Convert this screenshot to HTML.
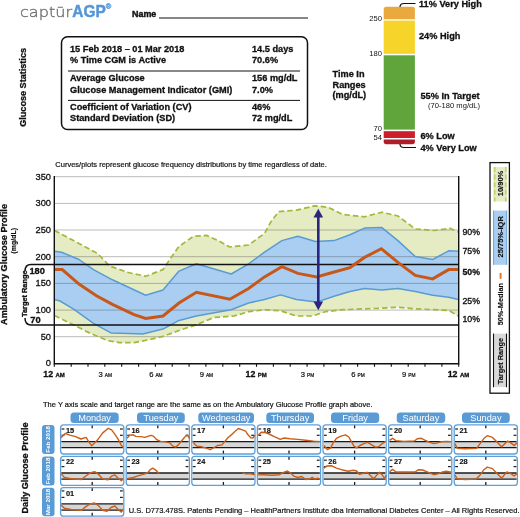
<!DOCTYPE html>
<html><head><meta charset="utf-8"><title>capturAGP</title>
<style>html,body{margin:0;padding:0;background:#fff}svg{display:block}text{font-family:"Liberation Sans",Arial,Helvetica,sans-serif;fill:#111}.b{font-weight:bold;stroke:#111;stroke-width:0.3px}.r{stroke:#111;stroke-width:0.2px}.wb{font-weight:bold;fill:#fff}.bs{font-weight:bold;stroke:#111;stroke-width:0.15px}</style>
</head><body>
<svg width="520" height="517" viewBox="0 0 520 517">
<rect width="520" height="517" fill="#fff"/>
<text x="20" y="16.8" font-size="14.6" style="font-family:'DejaVu Sans Light','DejaVu Sans','Liberation Sans',sans-serif;font-weight:200;fill:#6f7073;stroke:#6f7073;stroke-width:0.35px" textLength="52" lengthAdjust="spacingAndGlyphs">captūr</text>
<text x="72.3" y="16.8" font-size="17" style="font-weight:bold;fill:#5596d6;stroke:#5596d6;stroke-width:0.5px" textLength="33.5" lengthAdjust="spacingAndGlyphs">AGP</text>
<text x="105.8" y="8.6" font-size="7.5" style="font-weight:bold;fill:#5596d6;stroke:#5596d6;stroke-width:0.3px">®</text>
<text x="132" y="16.8" font-size="9.8" class="b" style="stroke-width:0.45px" textLength="24.3" lengthAdjust="spacingAndGlyphs">Name</text>
<line x1="159" y1="18" x2="308" y2="18" stroke="#111" stroke-width="1.2"/>
<rect x="61.5" y="36.7" width="246" height="92.8" rx="6" ry="6" fill="#fff" stroke="#111" stroke-width="1.5"/>
<line x1="68" y1="71" x2="300" y2="71" stroke="#111" stroke-width="1"/>
<line x1="68" y1="100.4" x2="300" y2="100.4" stroke="#111" stroke-width="1"/>
<text x="70" y="52.0" font-size="9.2" class="b">15 Feb 2018 – 01 Mar 2018</text>
<text x="252" y="52.0" font-size="9.2" class="b">14.5 days</text>
<text x="70" y="63.0" font-size="9.2" class="b">% Time CGM is Active</text>
<text x="252" y="63.0" font-size="9.2" class="b">70.6%</text>
<text x="70" y="81.3" font-size="9.2" class="b">Average Glucose</text>
<text x="252" y="81.3" font-size="9.2" class="b">156 mg/dL</text>
<text x="70" y="92.5" font-size="9.2" class="b">Glucose Management Indicator (GMI)</text>
<text x="252" y="92.5" font-size="9.2" class="b">7.0%</text>
<text x="70" y="110.0" font-size="9.2" class="b">Coefficient of Variation (CV)</text>
<text x="252" y="110.0" font-size="9.2" class="b">46%</text>
<text x="70" y="121.3" font-size="9.2" class="b">Standard Deviation (SD)</text>
<text x="252" y="121.3" font-size="9.2" class="b">72 mg/dL</text>
<text transform="translate(26.4,126.8) rotate(-90)" font-size="9.6" class="b" textLength="78.8" lengthAdjust="spacingAndGlyphs">Glucose Statistics</text>
<path d="M383.7 19.3 V9.5 Q383.7 6.8 386.2 6.8 H412.4 Q414.9 6.8 414.9 9.5 V19.3 Z" fill="#e9a93f"/>
<rect x="383.7" y="20.6" width="31.2" height="33.2" fill="#f6d42a"/>
<rect x="383.7" y="55.3" width="31.2" height="74.3" fill="#5fa53c"/>
<rect x="383.7" y="131.2" width="31.2" height="6.8" fill="#cc1f2b"/>
<path d="M383.7 139.4 H414.9 V141.5 Q414.9 144.2 412.4 144.2 H386.2 Q383.7 144.2 383.7 141.5 Z" fill="#b01c27"/>
<path d="M400 7 Q400 3.5 404 3.5 H415.5" fill="none" stroke="#111" stroke-width="1.2"/>
<path d="M400 144 Q400 147.5 404 147.5 H416" fill="none" stroke="#111" stroke-width="1.2"/>
<text x="419" y="6.6" font-size="9.2" class="b">11% Very High</text>
<text x="419" y="39" font-size="9.2" class="b">24% High</text>
<text x="420.5" y="98.5" font-size="9.2" class="b">55% In Target</text>
<text x="428" y="107.5" font-size="7.5" textLength="52" lengthAdjust="spacingAndGlyphs">(70-180 mg/dL)</text>
<text x="420.5" y="138.5" font-size="9.2" class="b">6% Low</text>
<text x="420.5" y="150.5" font-size="9.2" class="b">4% Very Low</text>
<text x="382" y="21.3" font-size="7.6" text-anchor="end">250</text>
<text x="382" y="55.5" font-size="7.6" text-anchor="end">180</text>
<text x="382" y="131" font-size="7.6" text-anchor="end">70</text>
<text x="382" y="140" font-size="7.6" text-anchor="end">54</text>
<text x="332.5" y="77.3" font-size="9.2" class="b">Time In</text>
<text x="332.5" y="87.8" font-size="9.2" class="b">Ranges</text>
<text x="332.5" y="98.3" font-size="9.2" class="b">(mg/dL)</text>
<text x="55.3" y="167" font-size="7.6" class="r" textLength="271.5" lengthAdjust="spacingAndGlyphs">Curves/plots represent glucose frequency distributions by time regardless of date.</text>
<polygon points="54.5,230.5 79.0,243.5 97.9,253.7 109.5,266.0 128.3,272.5 145.7,276.3 163.0,269.6 171.8,256.6 179.0,246.4 193.5,236.3 206.6,235.4 218.2,240.6 229.8,247.0 248.6,245.0 264.5,233.4 271.8,220.3 279.0,211.6 296.4,210.2 314.8,205.8 328.3,207.3 342.8,214.5 364.5,216.8 381.9,212.2 397.9,216.0 415.3,229.0 434.1,230.5 450.0,228.3 458.5,232.0 458.5,316.2 449.0,310.5 434.1,309.7 415.3,308.8 397.9,307.3 381.9,308.2 364.5,308.8 342.8,309.7 325.4,311.7 312.4,316.0 296.4,316.0 280.5,310.8 264.5,309.7 248.6,311.7 234.1,316.0 213.8,317.5 196.4,324.7 179.0,330.5 163.0,336.4 148.6,339.8 134.1,342.7 119.6,342.7 108.0,340.7 90.6,333.5 73.2,324.7 54.5,315.5" fill="#e5ecc4"/>
<polygon points="54.5,251.3 61.6,252.2 79.0,259.5 93.5,269.6 112.4,279.8 145.7,295.2 163.0,290.0 179.0,271.1 196.4,263.8 231.2,274.0 248.6,263.8 264.5,252.2 281.9,240.6 297.9,236.3 315.3,241.5 334.1,240.6 350.0,234.8 364.5,228.1 381.9,227.6 397.9,240.6 415.3,256.6 432.7,259.5 448.6,250.8 458.5,251.3 458.5,299.5 448.6,297.2 432.7,295.2 415.3,291.4 397.9,288.5 381.9,289.9 364.5,288.5 350.0,291.5 334.1,296.3 316.7,302.1 296.4,299.5 280.5,294.9 264.5,299.5 248.6,303.0 231.2,309.7 196.4,316.0 179.0,320.4 163.0,329.1 142.8,334.0 128.3,333.5 110.9,332.9 93.5,323.3 73.2,308.8 60.0,301.0 54.5,299.5" fill="#a9cef2"/>
<line x1="54.5" y1="336.7" x2="458.5" y2="336.7" stroke="#4a4a4a" stroke-opacity="0.42" stroke-width="0.9"/>
<line x1="54.5" y1="310.1" x2="458.5" y2="310.1" stroke="#4a4a4a" stroke-opacity="0.42" stroke-width="0.9"/>
<line x1="54.5" y1="283.4" x2="458.5" y2="283.4" stroke="#4a4a4a" stroke-opacity="0.42" stroke-width="0.9"/>
<line x1="54.5" y1="256.7" x2="458.5" y2="256.7" stroke="#4a4a4a" stroke-opacity="0.42" stroke-width="0.9"/>
<line x1="54.5" y1="230.0" x2="458.5" y2="230.0" stroke="#4a4a4a" stroke-opacity="0.42" stroke-width="0.9"/>
<line x1="54.5" y1="203.4" x2="458.5" y2="203.4" stroke="#4a4a4a" stroke-opacity="0.42" stroke-width="0.9"/>
<line x1="54.5" y1="176.7" x2="458.5" y2="176.7" stroke="#4a4a4a" stroke-opacity="0.42" stroke-width="0.9"/>
<path d="M54.5 230.5 L79.0 243.5 L97.9 253.7 L109.5 266.0 L128.3 272.5 L145.7 276.3 L163.0 269.6 L171.8 256.6 L179.0 246.4 L193.5 236.3 L206.6 235.4 L218.2 240.6 L229.8 247.0 L248.6 245.0 L264.5 233.4 L271.8 220.3 L279.0 211.6 L296.4 210.2 L314.8 205.8 L328.3 207.3 L342.8 214.5 L364.5 216.8 L381.9 212.2 L397.9 216.0 L415.3 229.0 L434.1 230.5 L450.0 228.3 L458.5 232.0" fill="none" stroke="#a3b83a" stroke-width="1.7" stroke-dasharray="5.5 3" stroke-linejoin="round"/>
<path d="M54.5 315.5 L73.2 324.7 L90.6 333.5 L108.0 340.7 L119.6 342.7 L134.1 342.7 L148.6 339.8 L163.0 336.4 L179.0 330.5 L196.4 324.7 L213.8 317.5 L234.1 316.0 L248.6 311.7 L264.5 309.7 L280.5 310.8 L296.4 316.0 L312.4 316.0 L325.4 311.7 L342.8 309.7 L364.5 308.8 L381.9 308.2 L397.9 307.3 L415.3 308.8 L434.1 309.7 L449.0 310.5 L458.5 316.2" fill="none" stroke="#a3b83a" stroke-width="1.7" stroke-dasharray="5.5 3" stroke-linejoin="round"/>
<path d="M54.5 251.3 L61.6 252.2 L79.0 259.5 L93.5 269.6 L112.4 279.8 L145.7 295.2 L163.0 290.0 L179.0 271.1 L196.4 263.8 L231.2 274.0 L248.6 263.8 L264.5 252.2 L281.9 240.6 L297.9 236.3 L315.3 241.5 L334.1 240.6 L350.0 234.8 L364.5 228.1 L381.9 227.6 L397.9 240.6 L415.3 256.6 L432.7 259.5 L448.6 250.8 L458.5 251.3" fill="none" stroke="#5a9bd0" stroke-width="1.5" stroke-linejoin="round"/>
<path d="M54.5 299.5 L60.0 301.0 L73.2 308.8 L93.5 323.3 L110.9 332.9 L128.3 333.5 L142.8 334.0 L163.0 329.1 L179.0 320.4 L196.4 316.0 L231.2 309.7 L248.6 303.0 L264.5 299.5 L280.5 294.9 L296.4 299.5 L316.7 302.1 L334.1 296.3 L350.0 291.5 L364.5 288.5 L381.9 289.9 L397.9 288.5 L415.3 291.4 L432.7 295.2 L448.6 297.2 L458.5 299.5" fill="none" stroke="#5a9bd0" stroke-width="1.5" stroke-linejoin="round"/>
<path d="M458 264.4 H31 Q25 264.4 25 271" fill="none" stroke="#111" stroke-width="1.5"/>
<path d="M458 324.9 H31 Q25 324.9 25 318" fill="none" stroke="#111" stroke-width="1.5"/>
<path d="M54.5 269.6 L62.2 269.6 L79.0 284.1 L96.4 295.7 L112.4 304.4 L134.1 314.6 L145.7 318.4 L163.0 316.0 L179.0 303.0 L196.4 292.3 L229.8 299.2 L248.6 288.5 L264.5 276.9 L281.9 266.7 L297.9 273.4 L316.7 276.9 L334.1 272.0 L350.0 267.6 L364.5 257.4 L381.3 248.7 L397.9 262.4 L415.3 275.4 L432.7 278.9 L448.6 269.6 L458.5 269.6" fill="none" stroke="#c8581a" stroke-width="3" stroke-linejoin="miter"/>
<path d="M54.3 176 V363.8 H458.7 V176" fill="none" stroke="#111" stroke-width="1.4"/>
<line x1="54.3" y1="363.5" x2="54.3" y2="366.8" stroke="#111" stroke-width="1.1"/>
<line x1="71.2" y1="363.5" x2="71.2" y2="366.8" stroke="#111" stroke-width="1.1"/>
<line x1="88.0" y1="363.5" x2="88.0" y2="366.8" stroke="#111" stroke-width="1.1"/>
<line x1="104.8" y1="363.5" x2="104.8" y2="366.8" stroke="#111" stroke-width="1.1"/>
<line x1="121.7" y1="363.5" x2="121.7" y2="366.8" stroke="#111" stroke-width="1.1"/>
<line x1="138.6" y1="363.5" x2="138.6" y2="366.8" stroke="#111" stroke-width="1.1"/>
<line x1="155.4" y1="363.5" x2="155.4" y2="366.8" stroke="#111" stroke-width="1.1"/>
<line x1="172.2" y1="363.5" x2="172.2" y2="366.8" stroke="#111" stroke-width="1.1"/>
<line x1="189.1" y1="363.5" x2="189.1" y2="366.8" stroke="#111" stroke-width="1.1"/>
<line x1="205.9" y1="363.5" x2="205.9" y2="366.8" stroke="#111" stroke-width="1.1"/>
<line x1="222.8" y1="363.5" x2="222.8" y2="366.8" stroke="#111" stroke-width="1.1"/>
<line x1="239.7" y1="363.5" x2="239.7" y2="366.8" stroke="#111" stroke-width="1.1"/>
<line x1="256.5" y1="363.5" x2="256.5" y2="366.8" stroke="#111" stroke-width="1.1"/>
<line x1="273.4" y1="363.5" x2="273.4" y2="366.8" stroke="#111" stroke-width="1.1"/>
<line x1="290.2" y1="363.5" x2="290.2" y2="366.8" stroke="#111" stroke-width="1.1"/>
<line x1="307.1" y1="363.5" x2="307.1" y2="366.8" stroke="#111" stroke-width="1.1"/>
<line x1="323.9" y1="363.5" x2="323.9" y2="366.8" stroke="#111" stroke-width="1.1"/>
<line x1="340.8" y1="363.5" x2="340.8" y2="366.8" stroke="#111" stroke-width="1.1"/>
<line x1="357.6" y1="363.5" x2="357.6" y2="366.8" stroke="#111" stroke-width="1.1"/>
<line x1="374.5" y1="363.5" x2="374.5" y2="366.8" stroke="#111" stroke-width="1.1"/>
<line x1="391.3" y1="363.5" x2="391.3" y2="366.8" stroke="#111" stroke-width="1.1"/>
<line x1="408.2" y1="363.5" x2="408.2" y2="366.8" stroke="#111" stroke-width="1.1"/>
<line x1="425.0" y1="363.5" x2="425.0" y2="366.8" stroke="#111" stroke-width="1.1"/>
<line x1="441.9" y1="363.5" x2="441.9" y2="366.8" stroke="#111" stroke-width="1.1"/>
<line x1="458.7" y1="363.5" x2="458.7" y2="366.8" stroke="#111" stroke-width="1.1"/>
<line x1="318.3" y1="215" x2="318.3" y2="304" stroke="#2a2580" stroke-width="2.6"/>
<polygon points="318.3,208.7 313.5,217.5 323.1,217.5" fill="#2a2580"/>
<polygon points="318.3,310.3 313.5,301.5 323.1,301.5" fill="#2a2580"/>
<text x="51" y="366.4" font-size="9.3" text-anchor="end" style="stroke:#111;stroke-width:0.3px">0</text>
<text x="51" y="339.7" font-size="9.3" text-anchor="end" style="stroke:#111;stroke-width:0.3px">50</text>
<text x="51" y="313.1" font-size="9.3" text-anchor="end" style="stroke:#111;stroke-width:0.3px">100</text>
<text x="51" y="286.4" font-size="9.3" text-anchor="end" style="stroke:#111;stroke-width:0.3px">150</text>
<text x="51" y="259.7" font-size="9.3" text-anchor="end" style="stroke:#111;stroke-width:0.3px">200</text>
<text x="51" y="233.0" font-size="9.3" text-anchor="end" style="stroke:#111;stroke-width:0.3px">250</text>
<text x="51" y="206.4" font-size="9.3" text-anchor="end" style="stroke:#111;stroke-width:0.3px">300</text>
<text x="51" y="179.7" font-size="9.3" text-anchor="end" style="stroke:#111;stroke-width:0.3px">350</text>
<text x="29.4" y="274.4" font-size="9.4" class="b" textLength="15.5" lengthAdjust="spacingAndGlyphs">180</text>
<text x="30.2" y="323.3" font-size="9.4" class="b">70</text>
<text transform="translate(27.3,317) rotate(-90)" font-size="7.3" class="b" textLength="46.5" lengthAdjust="spacingAndGlyphs">Target Range</text>
<text transform="translate(6.5,325) rotate(-90)" font-size="9.2" class="b" textLength="121" lengthAdjust="spacingAndGlyphs">Ambulatory Glucose Profile</text>
<text transform="translate(16.3,253.5) rotate(-90)" font-size="7" class="bs" textLength="25.5" lengthAdjust="spacingAndGlyphs">(mg/dL)</text>
<text x="53.1" y="376.8" font-size="8.8" class="b" text-anchor="end">12</text>
<text x="55.5" y="376.8" font-size="6" class="b">AM</text>
<text x="102.8" y="376.8" font-size="7.6" text-anchor="end" style="stroke:#111;stroke-width:0.2px">3</text>
<text x="104.8" y="376.8" font-size="4.8" style="stroke:#111;stroke-width:0.2px">AM</text>
<text x="153.4" y="376.8" font-size="7.6" text-anchor="end" style="stroke:#111;stroke-width:0.2px">6</text>
<text x="155.4" y="376.8" font-size="4.8" style="stroke:#111;stroke-width:0.2px">AM</text>
<text x="203.9" y="376.8" font-size="7.6" text-anchor="end" style="stroke:#111;stroke-width:0.2px">9</text>
<text x="205.9" y="376.8" font-size="4.8" style="stroke:#111;stroke-width:0.2px">AM</text>
<text x="255.3" y="376.8" font-size="8.8" class="b" text-anchor="end">12</text>
<text x="257.7" y="376.8" font-size="6" class="b">PM</text>
<text x="305.1" y="376.8" font-size="7.6" text-anchor="end" style="stroke:#111;stroke-width:0.2px">3</text>
<text x="307.1" y="376.8" font-size="4.8" style="stroke:#111;stroke-width:0.2px">PM</text>
<text x="355.6" y="376.8" font-size="7.6" text-anchor="end" style="stroke:#111;stroke-width:0.2px">6</text>
<text x="357.6" y="376.8" font-size="4.8" style="stroke:#111;stroke-width:0.2px">PM</text>
<text x="406.2" y="376.8" font-size="7.6" text-anchor="end" style="stroke:#111;stroke-width:0.2px">9</text>
<text x="408.2" y="376.8" font-size="4.8" style="stroke:#111;stroke-width:0.2px">PM</text>
<text x="457.5" y="376.8" font-size="8.8" class="b" text-anchor="end">12</text>
<text x="459.9" y="376.8" font-size="6" class="b">AM</text>
<text x="462.5" y="235.0" font-size="9" style="stroke:#111;stroke-width:0.35px" textLength="17.5" lengthAdjust="spacingAndGlyphs">90%</text>
<text x="462.5" y="254.0" font-size="9" style="stroke:#111;stroke-width:0.35px" textLength="17.5" lengthAdjust="spacingAndGlyphs">75%</text>
<text x="462.5" y="275.0" font-size="9" class="b" textLength="17.5" lengthAdjust="spacingAndGlyphs">50%</text>
<text x="462.5" y="304.0" font-size="9" style="stroke:#111;stroke-width:0.35px" textLength="17.5" lengthAdjust="spacingAndGlyphs">25%</text>
<text x="462.5" y="322.0" font-size="9" style="stroke:#111;stroke-width:0.35px" textLength="17.5" lengthAdjust="spacingAndGlyphs">10%</text>
<rect x="490" y="162.6" width="19.4" height="230.6" fill="#fff" stroke="#111" stroke-width="1.3"/>
<rect x="493.2" y="167" width="13.9" height="34.5" fill="#e4ebc5"/>
<line x1="494.8" y1="167" x2="494.8" y2="201.5" stroke="#b9cc55" stroke-width="1.3" stroke-dasharray="5 2.6"/>
<line x1="505.8" y1="167" x2="505.8" y2="201.5" stroke="#b9cc55" stroke-width="1.3" stroke-dasharray="5 2.6"/>
<text transform="translate(503,196.3) rotate(-90)" font-size="7.6" class="bs" textLength="25.6" lengthAdjust="spacingAndGlyphs">10/90%</text>
<rect x="493.2" y="210.6" width="13.9" height="54.2" fill="#a9cef1"/>
<line x1="493.6" y1="210.6" x2="493.6" y2="264.8" stroke="#6aa5d8" stroke-width="1"/>
<line x1="506.7" y1="210.6" x2="506.7" y2="264.8" stroke="#6aa5d8" stroke-width="1"/>
<text transform="translate(503,257.4) rotate(-90)" font-size="7.6" class="bs" textLength="41.2" lengthAdjust="spacingAndGlyphs">25/75%-IQR</text>
<line x1="500.6" y1="272.9" x2="500.6" y2="278.8" stroke="#e07a2a" stroke-width="2"/>
<text transform="translate(503,325.3) rotate(-90)" font-size="7.6" class="bs" textLength="42.3" lengthAdjust="spacingAndGlyphs">50%-Median</text>
<rect x="493.2" y="333.6" width="13.6" height="53.6" fill="#d9d9d9"/>
<line x1="493.5" y1="333.6" x2="493.5" y2="387.2" stroke="#111" stroke-width="1.1"/>
<line x1="506.5" y1="333.6" x2="506.5" y2="387.2" stroke="#111" stroke-width="1.1"/>
<text transform="translate(503,384.2) rotate(-90)" font-size="7.6" class="bs" textLength="46.2" lengthAdjust="spacingAndGlyphs">Target Range</text>
<text x="43" y="407" font-size="7.6" class="r" textLength="329.5" lengthAdjust="spacingAndGlyphs">The Y axis scale and target range are the same as on the Ambulatory Glucose Profile graph above.</text>
<text transform="translate(28,513.5) rotate(-90)" font-size="9.2" class="b" textLength="91" lengthAdjust="spacingAndGlyphs">Daily Glucose Profile</text>
<rect x="70.5" y="412.4" width="48.2" height="10.5" rx="3.5" ry="3.5" fill="#5b9bd5"/>
<text x="94.6" y="420.8" font-size="9.2" text-anchor="middle" style="fill:#fff">Monday</text>
<rect x="137.0" y="412.4" width="47.8" height="10.5" rx="3.5" ry="3.5" fill="#5b9bd5"/>
<text x="160.9" y="420.8" font-size="9.2" text-anchor="middle" style="fill:#fff">Tuesday</text>
<rect x="198.3" y="412.4" width="55.7" height="10.5" rx="3.5" ry="3.5" fill="#5b9bd5"/>
<text x="226.2" y="420.8" font-size="9.2" text-anchor="middle" style="fill:#fff">Wednesday</text>
<rect x="266.3" y="412.4" width="47.7" height="10.5" rx="3.5" ry="3.5" fill="#5b9bd5"/>
<text x="290.1" y="420.8" font-size="9.2" text-anchor="middle" style="fill:#fff">Thursday</text>
<rect x="331.0" y="412.4" width="48.2" height="10.5" rx="3.5" ry="3.5" fill="#5b9bd5"/>
<text x="355.1" y="420.8" font-size="9.2" text-anchor="middle" style="fill:#fff">Friday</text>
<rect x="396.7" y="412.4" width="48.5" height="10.5" rx="3.5" ry="3.5" fill="#5b9bd5"/>
<text x="420.9" y="420.8" font-size="9.2" text-anchor="middle" style="fill:#fff">Saturday</text>
<rect x="462.0" y="412.4" width="47.8" height="10.5" rx="3.5" ry="3.5" fill="#5b9bd5"/>
<text x="485.9" y="420.8" font-size="9.2" text-anchor="middle" style="fill:#fff">Sunday</text>
<rect x="42" y="424.9" width="12.5" height="29.1" rx="3" ry="3" fill="#5b9bd5"/>
<text transform="translate(50.3,439.4) rotate(-90)" font-size="6.2" class="wb" text-anchor="middle">Feb 2018</text>
<rect x="42" y="456.4" width="12.5" height="29.0" rx="3" ry="3" fill="#5b9bd5"/>
<text transform="translate(50.3,470.9) rotate(-90)" font-size="6.2" class="wb" text-anchor="middle">Feb 2018</text>
<rect x="42" y="487.7" width="12.5" height="28.5" rx="3" ry="3" fill="#5b9bd5"/>
<text transform="translate(50.3,502.0) rotate(-90)" font-size="6.2" class="wb" text-anchor="middle">Mar 2018</text>
<rect x="60.6" y="424.9" width="63.2" height="29.1" rx="3" ry="3" fill="#fff" stroke="#5f9fd8" stroke-width="1.3"/>
<rect x="61.4" y="441.6" width="61.6" height="6.0" fill="#d6d6d6"/>
<line x1="61.4" y1="441.6" x2="123.0" y2="441.6" stroke="#1a1a1a" stroke-width="1.3"/>
<line x1="61.4" y1="447.6" x2="123.0" y2="447.6" stroke="#1a1a1a" stroke-width="1.3"/>
<line x1="61.6" y1="435.3" x2="64.4" y2="435.3" stroke="#1a1a1a" stroke-width="1.2"/>
<line x1="120.0" y1="435.3" x2="122.8" y2="435.3" stroke="#1a1a1a" stroke-width="1.2"/>
<line x1="61.6" y1="429.0" x2="64.4" y2="429.0" stroke="#1a1a1a" stroke-width="1.2"/>
<line x1="120.0" y1="429.0" x2="122.8" y2="429.0" stroke="#1a1a1a" stroke-width="1.2"/>
<line x1="92.2" y1="425.4" x2="92.2" y2="428.3" stroke="#1a1a1a" stroke-width="1.3"/>
<line x1="92.2" y1="450.6" x2="92.2" y2="453.5" stroke="#1a1a1a" stroke-width="1.3"/>
<text x="65.9" y="432.9" font-size="7.4" class="bs">15</text>
<path d="M60.9 437.7 L65.2 433.5 L69.8 435.1 L75.0 436.4 L80.9 439.0 L86.1 437.4 L88.7 441.6 L91.7 445.8 L94.0 443.6 L97.2 440.3 L102.5 433.1 L108.3 428.3 L111.6 429.8 L115.5 435.1 L118.8 440.3 L121.4 445.5 L123.4 447.5" fill="none" stroke="#cc5e18" stroke-width="1.4" stroke-linejoin="round"/>
<rect x="126.2" y="424.9" width="63.2" height="29.1" rx="3" ry="3" fill="#fff" stroke="#5f9fd8" stroke-width="1.3"/>
<rect x="127.0" y="441.6" width="61.6" height="6.0" fill="#d6d6d6"/>
<line x1="127.0" y1="441.6" x2="188.6" y2="441.6" stroke="#1a1a1a" stroke-width="1.3"/>
<line x1="127.0" y1="447.6" x2="188.6" y2="447.6" stroke="#1a1a1a" stroke-width="1.3"/>
<line x1="127.2" y1="435.3" x2="130.0" y2="435.3" stroke="#1a1a1a" stroke-width="1.2"/>
<line x1="185.6" y1="435.3" x2="188.4" y2="435.3" stroke="#1a1a1a" stroke-width="1.2"/>
<line x1="127.2" y1="429.0" x2="130.0" y2="429.0" stroke="#1a1a1a" stroke-width="1.2"/>
<line x1="185.6" y1="429.0" x2="188.4" y2="429.0" stroke="#1a1a1a" stroke-width="1.2"/>
<line x1="157.8" y1="425.4" x2="157.8" y2="428.3" stroke="#1a1a1a" stroke-width="1.3"/>
<line x1="157.8" y1="450.6" x2="157.8" y2="453.5" stroke="#1a1a1a" stroke-width="1.3"/>
<text x="131.5" y="432.9" font-size="7.4" class="bs">16</text>
<path d="M126.9 438.3 L129.9 435.1 L133.2 434.8 L135.8 436.4 L141.0 436.6 L144.9 437.4 L150.8 435.3 L153.4 436.1 L156.7 439.7 L160.6 441.4 L165.8 441.9 L169.8 442.9 L172.4 445.8 L175.7 447.1 L178.3 444.9 L181.5 441.0 L184.8 437.0 L187.4 435.1 L189.4 438.3" fill="none" stroke="#cc5e18" stroke-width="1.4" stroke-linejoin="round"/>
<rect x="191.8" y="424.9" width="63.2" height="29.1" rx="3" ry="3" fill="#fff" stroke="#5f9fd8" stroke-width="1.3"/>
<rect x="192.6" y="441.6" width="61.6" height="6.0" fill="#d6d6d6"/>
<line x1="192.6" y1="441.6" x2="254.2" y2="441.6" stroke="#1a1a1a" stroke-width="1.3"/>
<line x1="192.6" y1="447.6" x2="254.2" y2="447.6" stroke="#1a1a1a" stroke-width="1.3"/>
<line x1="192.8" y1="435.3" x2="195.6" y2="435.3" stroke="#1a1a1a" stroke-width="1.2"/>
<line x1="251.2" y1="435.3" x2="254.0" y2="435.3" stroke="#1a1a1a" stroke-width="1.2"/>
<line x1="192.8" y1="429.0" x2="195.6" y2="429.0" stroke="#1a1a1a" stroke-width="1.2"/>
<line x1="251.2" y1="429.0" x2="254.0" y2="429.0" stroke="#1a1a1a" stroke-width="1.2"/>
<line x1="223.4" y1="425.4" x2="223.4" y2="428.3" stroke="#1a1a1a" stroke-width="1.3"/>
<line x1="223.4" y1="450.6" x2="223.4" y2="453.5" stroke="#1a1a1a" stroke-width="1.3"/>
<text x="197.1" y="432.9" font-size="7.4" class="bs">17</text>
<path d="M192.6 441.0 L194.6 444.2 L197.2 446.2 L201.8 446.8 L206.3 448.2 L210.3 449.7 L214.2 447.5 L217.5 445.5 L222.0 444.9 L224.7 441.6 L227.9 437.7 L231.8 434.4 L235.1 431.2 L238.4 428.5 L242.3 429.8 L245.6 431.2 L248.2 435.1 L250.8 437.7 L252.8 438.0 L255.1 435.1" fill="none" stroke="#cc5e18" stroke-width="1.4" stroke-linejoin="round"/>
<rect x="257.4" y="424.9" width="63.2" height="29.1" rx="3" ry="3" fill="#fff" stroke="#5f9fd8" stroke-width="1.3"/>
<rect x="258.2" y="441.6" width="61.6" height="6.0" fill="#d6d6d6"/>
<line x1="258.2" y1="441.6" x2="319.8" y2="441.6" stroke="#1a1a1a" stroke-width="1.3"/>
<line x1="258.2" y1="447.6" x2="319.8" y2="447.6" stroke="#1a1a1a" stroke-width="1.3"/>
<line x1="258.4" y1="435.3" x2="261.2" y2="435.3" stroke="#1a1a1a" stroke-width="1.2"/>
<line x1="316.8" y1="435.3" x2="319.6" y2="435.3" stroke="#1a1a1a" stroke-width="1.2"/>
<line x1="258.4" y1="429.0" x2="261.2" y2="429.0" stroke="#1a1a1a" stroke-width="1.2"/>
<line x1="316.8" y1="429.0" x2="319.6" y2="429.0" stroke="#1a1a1a" stroke-width="1.2"/>
<line x1="289.0" y1="425.4" x2="289.0" y2="428.3" stroke="#1a1a1a" stroke-width="1.3"/>
<line x1="289.0" y1="450.6" x2="289.0" y2="453.5" stroke="#1a1a1a" stroke-width="1.3"/>
<text x="262.7" y="432.9" font-size="7.4" class="bs">18</text>
<path d="M258.4 435.1 L261.2 432.2 L265.2 432.5 L269.1 434.0 L274.3 436.6 L280.2 439.3 L284.1 438.0 L290.0 438.7 L297.8 439.4 L305.7 440.3 L313.5 441.1 L320.7 441.6" fill="none" stroke="#cc5e18" stroke-width="1.4" stroke-linejoin="round"/>
<rect x="323.0" y="424.9" width="63.2" height="29.1" rx="3" ry="3" fill="#fff" stroke="#5f9fd8" stroke-width="1.3"/>
<rect x="323.8" y="441.6" width="61.6" height="6.0" fill="#d6d6d6"/>
<line x1="323.8" y1="441.6" x2="385.4" y2="441.6" stroke="#1a1a1a" stroke-width="1.3"/>
<line x1="323.8" y1="447.6" x2="385.4" y2="447.6" stroke="#1a1a1a" stroke-width="1.3"/>
<line x1="324.0" y1="435.3" x2="326.8" y2="435.3" stroke="#1a1a1a" stroke-width="1.2"/>
<line x1="382.4" y1="435.3" x2="385.2" y2="435.3" stroke="#1a1a1a" stroke-width="1.2"/>
<line x1="324.0" y1="429.0" x2="326.8" y2="429.0" stroke="#1a1a1a" stroke-width="1.2"/>
<line x1="382.4" y1="429.0" x2="385.2" y2="429.0" stroke="#1a1a1a" stroke-width="1.2"/>
<line x1="354.6" y1="425.4" x2="354.6" y2="428.3" stroke="#1a1a1a" stroke-width="1.3"/>
<line x1="354.6" y1="450.6" x2="354.6" y2="453.5" stroke="#1a1a1a" stroke-width="1.3"/>
<text x="328.3" y="432.9" font-size="7.4" class="bs">19</text>
<path d="M324.0 445.5 L327.2 449.5 L330.5 448.2 L333.1 442.9 L336.4 438.3 L340.3 436.4 L345.5 434.8 L348.8 437.0 L351.4 441.6 L354.0 446.2 L356.7 447.9 L359.9 445.5 L363.8 443.6 L367.8 442.3 L371.7 444.9 L375.6 447.1 L378.9 446.6 L382.2 443.6 L385.4 441.6" fill="none" stroke="#cc5e18" stroke-width="1.4" stroke-linejoin="round"/>
<rect x="388.6" y="424.9" width="63.2" height="29.1" rx="3" ry="3" fill="#fff" stroke="#5f9fd8" stroke-width="1.3"/>
<rect x="389.4" y="441.6" width="61.6" height="6.0" fill="#d6d6d6"/>
<line x1="389.4" y1="441.6" x2="451.0" y2="441.6" stroke="#1a1a1a" stroke-width="1.3"/>
<line x1="389.4" y1="447.6" x2="451.0" y2="447.6" stroke="#1a1a1a" stroke-width="1.3"/>
<line x1="389.6" y1="435.3" x2="392.4" y2="435.3" stroke="#1a1a1a" stroke-width="1.2"/>
<line x1="448.0" y1="435.3" x2="450.8" y2="435.3" stroke="#1a1a1a" stroke-width="1.2"/>
<line x1="389.6" y1="429.0" x2="392.4" y2="429.0" stroke="#1a1a1a" stroke-width="1.2"/>
<line x1="448.0" y1="429.0" x2="450.8" y2="429.0" stroke="#1a1a1a" stroke-width="1.2"/>
<line x1="420.2" y1="425.4" x2="420.2" y2="428.3" stroke="#1a1a1a" stroke-width="1.3"/>
<line x1="420.2" y1="450.6" x2="420.2" y2="453.5" stroke="#1a1a1a" stroke-width="1.3"/>
<text x="393.9" y="432.9" font-size="7.4" class="bs">20</text>
<path d="M389.6 440.3 L392.6 438.3 L395.8 440.6 L403.7 441.4 L414.2 441.0 L417.4 438.7 L421.3 438.3 L425.3 440.3 L429.8 442.3 L433.8 443.6 L437.7 442.9 L441.6 441.6 L446.8 441.4 L451.4 441.6" fill="none" stroke="#cc5e18" stroke-width="1.4" stroke-linejoin="round"/>
<rect x="454.2" y="424.9" width="63.2" height="29.1" rx="3" ry="3" fill="#fff" stroke="#5f9fd8" stroke-width="1.3"/>
<rect x="455.0" y="441.6" width="61.6" height="6.0" fill="#d6d6d6"/>
<line x1="455.0" y1="441.6" x2="516.6" y2="441.6" stroke="#1a1a1a" stroke-width="1.3"/>
<line x1="455.0" y1="447.6" x2="516.6" y2="447.6" stroke="#1a1a1a" stroke-width="1.3"/>
<line x1="455.2" y1="435.3" x2="458.0" y2="435.3" stroke="#1a1a1a" stroke-width="1.2"/>
<line x1="513.6" y1="435.3" x2="516.4" y2="435.3" stroke="#1a1a1a" stroke-width="1.2"/>
<line x1="455.2" y1="429.0" x2="458.0" y2="429.0" stroke="#1a1a1a" stroke-width="1.2"/>
<line x1="513.6" y1="429.0" x2="516.4" y2="429.0" stroke="#1a1a1a" stroke-width="1.2"/>
<line x1="485.8" y1="425.4" x2="485.8" y2="428.3" stroke="#1a1a1a" stroke-width="1.3"/>
<line x1="485.8" y1="450.6" x2="485.8" y2="453.5" stroke="#1a1a1a" stroke-width="1.3"/>
<text x="459.5" y="432.9" font-size="7.4" class="bs">21</text>
<path d="M454.9 443.6 L457.2 448.2 L465.1 448.8 L476.8 448.2 L480.1 443.6 L484.0 438.3 L487.3 435.7 L492.5 437.4 L496.5 441.6 L501.7 446.8 L504.3 444.2 L507.6 441.0 L510.8 442.9 L514.1 445.5 L517.1 442.9" fill="none" stroke="#cc5e18" stroke-width="1.4" stroke-linejoin="round"/>
<rect x="60.6" y="456.4" width="63.2" height="29.0" rx="3" ry="3" fill="#fff" stroke="#5f9fd8" stroke-width="1.3"/>
<rect x="61.4" y="473.0" width="61.6" height="6.1" fill="#d6d6d6"/>
<line x1="61.4" y1="473.0" x2="123.0" y2="473.0" stroke="#1a1a1a" stroke-width="1.3"/>
<line x1="61.4" y1="479.1" x2="123.0" y2="479.1" stroke="#1a1a1a" stroke-width="1.3"/>
<line x1="61.6" y1="466.6" x2="64.4" y2="466.6" stroke="#1a1a1a" stroke-width="1.2"/>
<line x1="120.0" y1="466.6" x2="122.8" y2="466.6" stroke="#1a1a1a" stroke-width="1.2"/>
<line x1="61.6" y1="460.2" x2="64.4" y2="460.2" stroke="#1a1a1a" stroke-width="1.2"/>
<line x1="120.0" y1="460.2" x2="122.8" y2="460.2" stroke="#1a1a1a" stroke-width="1.2"/>
<line x1="92.2" y1="456.9" x2="92.2" y2="459.8" stroke="#1a1a1a" stroke-width="1.3"/>
<line x1="92.2" y1="482.0" x2="92.2" y2="484.9" stroke="#1a1a1a" stroke-width="1.3"/>
<text x="65.9" y="464.4" font-size="7.4" class="bs">22</text>
<path d="M60.9 473.6 L64.5 477.5 L71.1 478.8 L81.5 479.5 L85.5 476.2 L90.0 473.0 L94.6 471.7 L98.5 474.3 L102.5 478.8 L107.7 479.9 L111.6 476.2 L114.9 474.9 L118.2 478.2 L121.4 480.8 L123.1 478.8" fill="none" stroke="#cc5e18" stroke-width="1.4" stroke-linejoin="round"/>
<rect x="126.2" y="456.4" width="63.2" height="29.0" rx="3" ry="3" fill="#fff" stroke="#5f9fd8" stroke-width="1.3"/>
<rect x="127.0" y="473.0" width="61.6" height="6.1" fill="#d6d6d6"/>
<line x1="127.0" y1="473.0" x2="188.6" y2="473.0" stroke="#1a1a1a" stroke-width="1.3"/>
<line x1="127.0" y1="479.1" x2="188.6" y2="479.1" stroke="#1a1a1a" stroke-width="1.3"/>
<line x1="127.2" y1="466.6" x2="130.0" y2="466.6" stroke="#1a1a1a" stroke-width="1.2"/>
<line x1="185.6" y1="466.6" x2="188.4" y2="466.6" stroke="#1a1a1a" stroke-width="1.2"/>
<line x1="127.2" y1="460.2" x2="130.0" y2="460.2" stroke="#1a1a1a" stroke-width="1.2"/>
<line x1="185.6" y1="460.2" x2="188.4" y2="460.2" stroke="#1a1a1a" stroke-width="1.2"/>
<line x1="157.8" y1="456.9" x2="157.8" y2="459.8" stroke="#1a1a1a" stroke-width="1.3"/>
<line x1="157.8" y1="482.0" x2="157.8" y2="484.9" stroke="#1a1a1a" stroke-width="1.3"/>
<text x="131.5" y="464.4" font-size="7.4" class="bs">23</text>
<path d="M126.9 478.6 L131.8 477.8 L137.1 476.2 L142.3 474.7 L147.5 473.0 L150.2 469.7 L152.8 468.1 L156.0 470.3 L159.3 473.9" fill="none" stroke="#cc5e18" stroke-width="1.4" stroke-linejoin="round"/>
<rect x="191.8" y="456.4" width="63.2" height="29.0" rx="3" ry="3" fill="#fff" stroke="#5f9fd8" stroke-width="1.3"/>
<rect x="192.6" y="473.0" width="61.6" height="6.1" fill="#d6d6d6"/>
<line x1="192.6" y1="473.0" x2="254.2" y2="473.0" stroke="#1a1a1a" stroke-width="1.3"/>
<line x1="192.6" y1="479.1" x2="254.2" y2="479.1" stroke="#1a1a1a" stroke-width="1.3"/>
<line x1="192.8" y1="466.6" x2="195.6" y2="466.6" stroke="#1a1a1a" stroke-width="1.2"/>
<line x1="251.2" y1="466.6" x2="254.0" y2="466.6" stroke="#1a1a1a" stroke-width="1.2"/>
<line x1="192.8" y1="460.2" x2="195.6" y2="460.2" stroke="#1a1a1a" stroke-width="1.2"/>
<line x1="251.2" y1="460.2" x2="254.0" y2="460.2" stroke="#1a1a1a" stroke-width="1.2"/>
<line x1="223.4" y1="456.9" x2="223.4" y2="459.8" stroke="#1a1a1a" stroke-width="1.3"/>
<line x1="223.4" y1="482.0" x2="223.4" y2="484.9" stroke="#1a1a1a" stroke-width="1.3"/>
<text x="197.1" y="464.4" font-size="7.4" class="bs">24</text>
<path d="M242.3 473.0 L246.2 473.9 L250.2 473.6 L254.7 474.7" fill="none" stroke="#cc5e18" stroke-width="1.4" stroke-linejoin="round"/>
<rect x="257.4" y="456.4" width="63.2" height="29.0" rx="3" ry="3" fill="#fff" stroke="#5f9fd8" stroke-width="1.3"/>
<rect x="258.2" y="473.0" width="61.6" height="6.1" fill="#d6d6d6"/>
<line x1="258.2" y1="473.0" x2="319.8" y2="473.0" stroke="#1a1a1a" stroke-width="1.3"/>
<line x1="258.2" y1="479.1" x2="319.8" y2="479.1" stroke="#1a1a1a" stroke-width="1.3"/>
<line x1="258.4" y1="466.6" x2="261.2" y2="466.6" stroke="#1a1a1a" stroke-width="1.2"/>
<line x1="316.8" y1="466.6" x2="319.6" y2="466.6" stroke="#1a1a1a" stroke-width="1.2"/>
<line x1="258.4" y1="460.2" x2="261.2" y2="460.2" stroke="#1a1a1a" stroke-width="1.2"/>
<line x1="316.8" y1="460.2" x2="319.6" y2="460.2" stroke="#1a1a1a" stroke-width="1.2"/>
<line x1="289.0" y1="456.9" x2="289.0" y2="459.8" stroke="#1a1a1a" stroke-width="1.3"/>
<line x1="289.0" y1="482.0" x2="289.0" y2="484.9" stroke="#1a1a1a" stroke-width="1.3"/>
<text x="262.7" y="464.4" font-size="7.4" class="bs">25</text>
<path d="M258.0 474.9 L263.8 474.7 L271.7 475.2 L279.5 474.7 L283.5 472.3 L287.4 471.0 L290.7 473.0 L293.9 476.2 L297.8 477.5 L301.8 476.5 L305.7 479.5 L309.6 479.1 L312.2 477.3 L314.8 479.1 L317.5 478.2 L320.1 479.1" fill="none" stroke="#cc5e18" stroke-width="1.4" stroke-linejoin="round"/>
<rect x="323.0" y="456.4" width="63.2" height="29.0" rx="3" ry="3" fill="#fff" stroke="#5f9fd8" stroke-width="1.3"/>
<rect x="323.8" y="473.0" width="61.6" height="6.1" fill="#d6d6d6"/>
<line x1="323.8" y1="473.0" x2="385.4" y2="473.0" stroke="#1a1a1a" stroke-width="1.3"/>
<line x1="323.8" y1="479.1" x2="385.4" y2="479.1" stroke="#1a1a1a" stroke-width="1.3"/>
<line x1="324.0" y1="466.6" x2="326.8" y2="466.6" stroke="#1a1a1a" stroke-width="1.2"/>
<line x1="382.4" y1="466.6" x2="385.2" y2="466.6" stroke="#1a1a1a" stroke-width="1.2"/>
<line x1="324.0" y1="460.2" x2="326.8" y2="460.2" stroke="#1a1a1a" stroke-width="1.2"/>
<line x1="382.4" y1="460.2" x2="385.2" y2="460.2" stroke="#1a1a1a" stroke-width="1.2"/>
<line x1="354.6" y1="456.9" x2="354.6" y2="459.8" stroke="#1a1a1a" stroke-width="1.3"/>
<line x1="354.6" y1="482.0" x2="354.6" y2="484.9" stroke="#1a1a1a" stroke-width="1.3"/>
<text x="328.3" y="464.4" font-size="7.4" class="bs">26</text>
<path d="M323.6 468.4 L326.6 466.0 L331.8 465.8 L336.4 468.1 L341.6 469.7 L348.2 471.3 L353.4 470.3 L356.7 471.0 L359.3 474.3 L362.5 473.6 L367.1 472.3 L370.4 475.6 L373.7 478.8 L376.9 474.9 L379.5 472.3 L382.2 474.9 L384.8 478.6 L386.1 474.9" fill="none" stroke="#cc5e18" stroke-width="1.4" stroke-linejoin="round"/>
<rect x="388.6" y="456.4" width="63.2" height="29.0" rx="3" ry="3" fill="#fff" stroke="#5f9fd8" stroke-width="1.3"/>
<rect x="389.4" y="473.0" width="61.6" height="6.1" fill="#d6d6d6"/>
<line x1="389.4" y1="473.0" x2="451.0" y2="473.0" stroke="#1a1a1a" stroke-width="1.3"/>
<line x1="389.4" y1="479.1" x2="451.0" y2="479.1" stroke="#1a1a1a" stroke-width="1.3"/>
<line x1="389.6" y1="466.6" x2="392.4" y2="466.6" stroke="#1a1a1a" stroke-width="1.2"/>
<line x1="448.0" y1="466.6" x2="450.8" y2="466.6" stroke="#1a1a1a" stroke-width="1.2"/>
<line x1="389.6" y1="460.2" x2="392.4" y2="460.2" stroke="#1a1a1a" stroke-width="1.2"/>
<line x1="448.0" y1="460.2" x2="450.8" y2="460.2" stroke="#1a1a1a" stroke-width="1.2"/>
<line x1="420.2" y1="456.9" x2="420.2" y2="459.8" stroke="#1a1a1a" stroke-width="1.3"/>
<line x1="420.2" y1="482.0" x2="420.2" y2="484.9" stroke="#1a1a1a" stroke-width="1.3"/>
<text x="393.9" y="464.4" font-size="7.4" class="bs">27</text>
<path d="M389.6 471.7 L392.6 469.4 L395.8 471.7 L403.7 472.0 L415.5 471.7 L418.7 469.7 L422.7 470.0 L426.6 471.7 L430.5 473.4 L433.8 474.7 L437.7 473.9 L441.6 472.3 L446.2 471.3 L451.4 472.3" fill="none" stroke="#cc5e18" stroke-width="1.4" stroke-linejoin="round"/>
<rect x="454.2" y="456.4" width="63.2" height="29.0" rx="3" ry="3" fill="#fff" stroke="#5f9fd8" stroke-width="1.3"/>
<rect x="455.0" y="473.0" width="61.6" height="6.1" fill="#d6d6d6"/>
<line x1="455.0" y1="473.0" x2="516.6" y2="473.0" stroke="#1a1a1a" stroke-width="1.3"/>
<line x1="455.0" y1="479.1" x2="516.6" y2="479.1" stroke="#1a1a1a" stroke-width="1.3"/>
<line x1="455.2" y1="466.6" x2="458.0" y2="466.6" stroke="#1a1a1a" stroke-width="1.2"/>
<line x1="513.6" y1="466.6" x2="516.4" y2="466.6" stroke="#1a1a1a" stroke-width="1.2"/>
<line x1="455.2" y1="460.2" x2="458.0" y2="460.2" stroke="#1a1a1a" stroke-width="1.2"/>
<line x1="513.6" y1="460.2" x2="516.4" y2="460.2" stroke="#1a1a1a" stroke-width="1.2"/>
<line x1="485.8" y1="456.9" x2="485.8" y2="459.8" stroke="#1a1a1a" stroke-width="1.3"/>
<line x1="485.8" y1="482.0" x2="485.8" y2="484.9" stroke="#1a1a1a" stroke-width="1.3"/>
<text x="459.5" y="464.4" font-size="7.4" class="bs">28</text>
<path d="M454.9 474.9 L457.2 478.8 L465.1 479.5 L476.2 479.1 L480.1 474.9 L484.0 469.7 L487.3 467.1 L492.5 468.6 L496.5 473.0 L501.7 478.2 L504.3 474.9 L506.9 472.0 L510.8 473.6 L514.1 476.0 L517.1 473.6" fill="none" stroke="#cc5e18" stroke-width="1.4" stroke-linejoin="round"/>
<rect x="60.6" y="487.7" width="63.2" height="28.5" rx="3" ry="3" fill="#fff" stroke="#5f9fd8" stroke-width="1.3"/>
<rect x="61.4" y="503.9" width="61.6" height="6.2" fill="#d6d6d6"/>
<line x1="61.4" y1="503.9" x2="123.0" y2="503.9" stroke="#1a1a1a" stroke-width="1.3"/>
<line x1="61.4" y1="510.1" x2="123.0" y2="510.1" stroke="#1a1a1a" stroke-width="1.3"/>
<line x1="61.6" y1="497.4" x2="64.4" y2="497.4" stroke="#1a1a1a" stroke-width="1.2"/>
<line x1="120.0" y1="497.4" x2="122.8" y2="497.4" stroke="#1a1a1a" stroke-width="1.2"/>
<line x1="61.6" y1="490.9" x2="64.4" y2="490.9" stroke="#1a1a1a" stroke-width="1.2"/>
<line x1="120.0" y1="490.9" x2="122.8" y2="490.9" stroke="#1a1a1a" stroke-width="1.2"/>
<line x1="92.2" y1="488.2" x2="92.2" y2="491.1" stroke="#1a1a1a" stroke-width="1.3"/>
<line x1="92.2" y1="512.8" x2="92.2" y2="515.7" stroke="#1a1a1a" stroke-width="1.3"/>
<text x="65.9" y="495.7" font-size="7.4" class="bs">01</text>
<path d="M60.9 504.9 L64.5 508.2 L71.1 509.5 L81.5 510.2 L85.5 506.9 L90.0 503.9 L94.6 503.0 L98.5 505.6 L102.5 510.2 L107.0 511.2 L111.0 507.5 L114.9 506.0 L118.2 509.5 L121.4 512.1 L123.1 509.5" fill="none" stroke="#cc5e18" stroke-width="1.4" stroke-linejoin="round"/>
<text x="128.7" y="513.3" font-size="7.6" class="r" textLength="390.8" lengthAdjust="spacingAndGlyphs">U.S. D773.478S. Patents Pending – HealthPartners Institute dba International Diabetes Center – All Rights Reserved.</text>
</svg></body></html>
